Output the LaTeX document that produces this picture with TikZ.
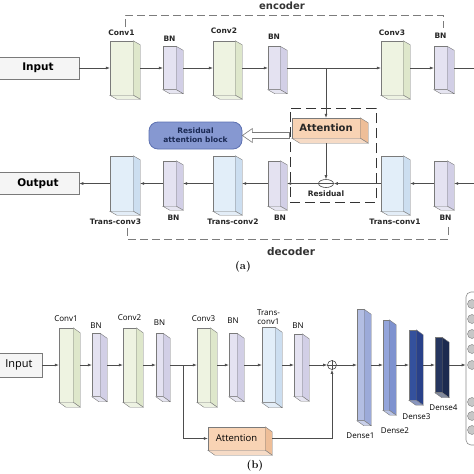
\documentclass[tikz,border=0pt]{standalone}
\usepackage{fontspec}
\newfontfamily\wfont{DejaVu Sans}
\newfontfamily\nfont{Open Sans}
\usetikzlibrary{arrows.meta,shapes.geometric,calc}

\definecolor{convF}{HTML}{EEF3E1}
\definecolor{convS}{HTML}{DEE7CB}
\definecolor{bnF}{HTML}{E4E2F1}
\definecolor{bnS}{HTML}{D2CFE6}
\definecolor{tconvF}{HTML}{E2EEF9}
\definecolor{tconvS}{HTML}{CCDEF0}
\definecolor{attF}{HTML}{F8D3B4}
\definecolor{attS}{HTML}{EEBE98}
\definecolor{dAF}{HTML}{B3BEE3}
\definecolor{dAS}{HTML}{9CAAD9}
\definecolor{dBF}{HTML}{94A5DB}
\definecolor{dBS}{HTML}{7E92CF}
\definecolor{dCF}{HTML}{34519D}
\definecolor{dCS}{HTML}{29418A}
\definecolor{dDF}{HTML}{26365F}
\definecolor{dDS}{HTML}{1C2A4F}
\definecolor{edgegray}{HTML}{7A7A7A}
\definecolor{linegray}{HTML}{4D4D4D}
\definecolor{dashgray}{HTML}{7C7C7C}
\definecolor{rabfill}{HTML}{8698D1}
\definecolor{rabdraw}{HTML}{5E72B2}
\definecolor{rabtext}{HTML}{1B2A55}

% 3D slab: name, position, width, height, colour, label
\newcommand{\slab}[6]{%
  \node[slabface, fill=#5F, minimum width=#3pt, minimum height=#4pt, label={#6}] (#1) at (#2) {};
  \draw[slabedge, fill=#5S] (#1.north east) -- ++(\dpx,\dpy) -- ([shift={(\dpx,\dpy)}]#1.south east) -- (#1.south east) -- cycle;
  \draw[slabedge, fill=#5S!55!white] (#1.south west) -- ++(\dpx,\dpy) -- ([shift={(\dpx,\dpy)}]#1.south east) -- (#1.south east) -- cycle;
  \coordinate (#1-out) at ([xshift=\dpx pt]#1.east);
}

\begin{document}
\begin{tikzpicture}[x=1pt,y=-1pt,
  >={Latex[length=4pt,width=3pt]},
  slabface/.style={draw=edgegray, line width=0.4pt, inner sep=0pt},
  slabedge/.style={draw=edgegray, line width=0.4pt},
  conn/.style={draw=linegray, line width=0.6pt},
  iobox/.style={draw=edgegray, fill=black!4, line width=0.6pt, inner sep=0pt},
  guide/.style={draw=dashgray, line width=0.8pt, dash pattern=on 8pt off 4pt},
  ]
\useasboundingbox (0,0) rectangle (474,474);

%%% (a)
\begin{scope}[every label/.style={font=\wfont\bfseries\fontsize{7.5}{9}\selectfont, text=black!85, inner sep=1.5pt}, label distance=3pt]
  \node[iobox, minimum width=82pt, minimum height=22pt, font=\wfont\bfseries\fontsize{10.5}{12}\selectfont] (inA) at (38,68) {Input};
  \node[iobox, minimum width=82pt, minimum height=22pt, font=\wfont\bfseries\fontsize{10.5}{12}\selectfont] (outA) at (38,183.5) {Output};

  \def\dpx{7}\def\dpy{4}
  \slab{c1}{121.5,68}{23}{54}{conv}{above:Conv1}
  \slab{b1}{169.5,68}{13}{43}{bn}{above:BN}
  \slab{c2}{224,68}{22}{54}{conv}{[label distance=5pt]above:Conv2}
  \slab{b2}{274,68}{12}{43}{bn}{[label distance=5pt]above:BN}
  \slab{c3}{392,68}{22}{54}{conv}{above:Conv3}
  \slab{b3}{440.5,68}{13}{43}{bn}{[label distance=6pt]above:BN}

  \slab{t3}{121.5,183.5}{23}{55}{tconv}{[label distance=6pt, xshift=-6pt]below:Trans-conv3}
  \slab{d3}{169.5,183.5}{13}{45}{bn}{[label distance=7pt, xshift=4pt]below:BN}
  \slab{t2}{224,183.5}{22}{55}{tconv}{[label distance=6pt, xshift=9pt]below:Trans-conv2}
  \slab{d2}{274,183.5}{12}{45}{bn}{[label distance=7pt, xshift=6pt]below:BN}
  \slab{t1}{392,183.5}{22}{55}{tconv}{[label distance=6pt, xshift=3pt]below:Trans-conv1}
  \slab{d1}{440.5,183.5}{13}{45}{bn}{[label distance=7pt, xshift=5pt]below:BN}

  % residual attention part
  \node[draw=black!80, line width=1pt, dash pattern=on 10pt off 5pt, minimum width=86pt, minimum height=94pt] (rbox) at (333,155) {};
  \def\dpx{8}\def\dpy{5}
  \slab{att}{326,128}{68}{20}{att}{[label distance=0pt, font=\wfont\bfseries\fontsize{10}{12}\selectfont]center:Attention}
  \node[draw=linegray, line width=0.6pt, ellipse, minimum width=15pt, minimum height=8pt, inner sep=0pt,
        label={[label distance=1pt]below:Residual}] (sum) at (326,183.5) {};
  \draw[conn] (sum.west) -- (sum.east);

  \node[rounded corners=9pt, fill=rabfill, draw=rabdraw, line width=0.8pt, text=rabtext, align=center,
        minimum width=93pt, minimum height=27pt, font=\wfont\bfseries\fontsize{7.5}{9}\selectfont] (rab) at (195.5,135.5) {Residual\\attention block};
  \coordinate (hb) at (rbox.west |- rab.east);
  \draw[draw=edgegray, fill=white, line width=0.6pt] (rab.east) -- ++(10,-7) -- ++(0,4) -- ([shift={(0,-3)}]hb)
      -- ([shift={(0,3)}]hb) -- ([shift={(10,3)}]rab.east) -- ++(0,4) -- cycle;

  % encoder
  \draw[conn,->] (inA) -- (c1);
  \draw[conn,->] (c1-out) -- (b1);
  \draw[conn,->] (b1-out) -- (c2);
  \draw[conn,->] (c2-out) -- (b2);
  \draw[conn,->] (b2-out) -- (c3);
  \draw[conn,->] (c3-out) -- (b3);
  \coordinate (eR) at (480,68);
  \draw[conn] (b3-out) -- (eR);
  \coordinate (brA) at (326,68);
  \draw[conn,->] (brA) -- (att);
  \draw[conn,->] ([yshift=-5pt]att.south) -- (sum);

  % decoder
  \coordinate (dR) at (480,183.5);
  \draw[conn,->] (dR) -- (d1-out);
  \draw[conn,->] (d1) -- (t1-out);
  \draw[conn,->] (t1) -- (sum);
  \draw[conn,->] (sum) -- (d2-out);
  \draw[conn,->] (d2) -- (t2-out);
  \draw[conn,->] (t2) -- (d3-out);
  \draw[conn,->] (d3) -- (t3-out);
  \draw[conn,->] (t3) -- (outA);

  \draw[guide] (125,27) -- (125,15) -- (443,15) -- (443,28);
  \draw[guide] (127,228) -- (127,239) -- (448,239) -- (448,227);
  \node[font=\wfont\bfseries\fontsize{10}{12}\selectfont, text=black!80, inner sep=1pt] (enc) at (282,6) {encoder};
  \node[font=\wfont\bfseries\fontsize{10.5}{12}\selectfont, text=black!80] (dec) at (291,252) {decoder};
  \node[font=\bfseries\fontsize{11}{13}\selectfont] (capA) at (243,267) {(a)};
\end{scope}

%%% (b)
\begin{scope}[every label/.style={font=\nfont\fontsize{8}{9.5}\selectfont, inner sep=1pt}, label distance=5pt]
  \node[iobox, minimum width=46pt, minimum height=24pt, font=\nfont\fontsize{11}{13}\selectfont] (inB) at (19,365) {Input};

  \def\dpx{7}\def\dpy{5}
  \slab{bc1}{66,365}{14}{74}{conv}{above:Conv1}
  \slab{bb1}{96,365}{8}{63}{bn}{[label distance=3.5pt]above:BN}
  \slab{bc2}{129.5,365}{13}{74}{conv}{[label distance=6.5pt]above:Conv2}
  \slab{bb2}{159.5,365}{7}{63}{bn}{[label distance=6.5pt]above:BN}
  \slab{bc3}{203.5,365}{13}{74}{conv}{above:Conv3}
  \slab{bb3}{233,365}{8}{63}{bn}{[label distance=9pt]above:BN}
  \slab{bt1}{268.5,365}{13}{75}{tconv}{[label distance=1.5pt, align=center]above:Trans-\\conv1}
  \slab{bb4}{298,365}{8}{62}{bn}{[label distance=4.5pt]above:BN}

  \slab{ds1}{360.5,365}{7}{111}{dA}{[label distance=11pt]below:Dense1}
  \slab{ds2}{386,365}{6}{90}{dB}{[label distance=16pt, xshift=9pt]below:Dense2}
  \slab{ds3}{412.5,365}{7}{70}{dC}{[label distance=12pt, xshift=4pt]below:Dense3}
  \slab{ds4}{438.5,365}{7}{55}{dD}{[label distance=11pt, xshift=5pt]below:Dense4}

  \slab{attb}{236.5,438.5}{57}{23}{att}{[label distance=0pt, font=\nfont\fontsize{9.5}{11}\selectfont]center:Attention}

  \node[draw=linegray, line width=0.6pt, circle, minimum size=9pt, inner sep=0pt] (plus) at (332,365) {};
  \draw[conn] (plus.west) -- (plus.east) (plus.north) -- (plus.south);

  \node[draw=black!45, fill=white, line width=0.6pt, rounded corners=5pt, minimum width=30pt, minimum height=153pt] (colB) at (481,368.5) {};
  \foreach \y [count=\i] in {304,319,334,349,365,402,416,430}
    \node[circle, draw=black!50, fill=black!22, minimum size=9pt, inner sep=0pt] (u\i) at (472,\y) {};

  \draw[conn,->] (inB) -- (bc1);
  \draw[conn,->] (bc1-out) -- (bb1);
  \draw[conn,->] (bb1-out) -- (bc2);
  \draw[conn,->] (bc2-out) -- (bb2);
  \draw[conn,->] (bb2-out) -- (bc3);
  \draw[conn,->] (bc3-out) -- (bb3);
  \draw[conn,->] (bb3-out) -- (bt1);
  \draw[conn,->] (bt1-out) -- (bb4);
  \draw[conn,->] (bb4-out) -- (plus);
  \draw[conn,->] (plus) -- (ds1);
  \draw[conn,->] (ds1-out) -- (ds2);
  \draw[conn,->] (ds2-out) -- (ds3);
  \draw[conn,->] (ds3-out) -- (ds4);
  \draw[conn,->] (ds4-out) -- (colB.west |- ds4-out);
  \coordinate (brB) at (183,365);
  \draw[conn,->] (brB) |- (attb);
  \draw[conn,->] (attb-out) -| (plus);

  \node[font=\bfseries\fontsize{11}{13}\selectfont] (capB) at (255,466) {(b)};
\end{scope}
\end{tikzpicture}
\end{document}
